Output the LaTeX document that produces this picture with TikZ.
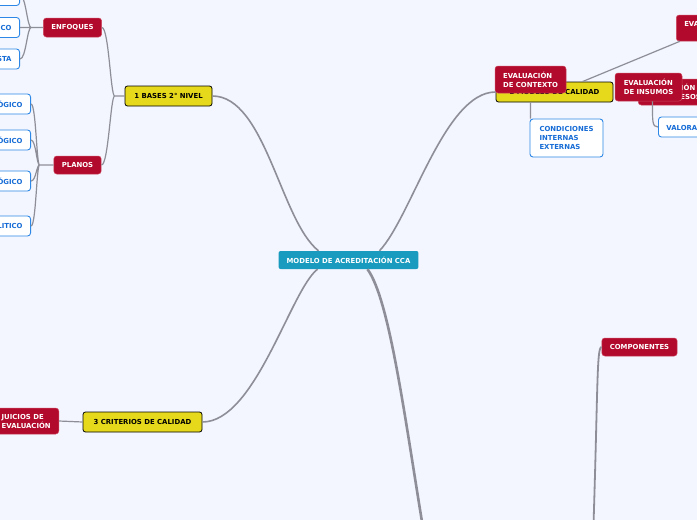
\documentclass[tikz,border=0pt]{standalone}
\usepackage{fontspec}
\setmainfont{DejaVu Sans}

\definecolor{mapbg}{RGB}{243,246,254}
\definecolor{rootcol}{RGB}{24,155,190}
\definecolor{topiccol}{RGB}{230,217,28}
\definecolor{redcol}{RGB}{178,10,44}
\definecolor{redrim}{RGB}{205,70,95}
\definecolor{leafcol}{RGB}{45,135,230}
\definecolor{leaftext}{RGB}{22,108,214}
\definecolor{linkcol}{RGB}{142,142,152}

\begin{document}
\begin{tikzpicture}[x=1pt,y=-1pt,font=\bfseries\fontsize{6.9}{9}\selectfont]
  \tikzstyle{root}=[fill=rootcol,text=white,rounded corners=2pt,minimum height=18pt,inner xsep=8pt]
  \tikzstyle{topic}=[fill=topiccol,draw=black,line width=0.8pt,text=black,rounded corners=2.5pt,minimum height=20pt,inner xsep=8pt]
  \tikzstyle{hub}=[fill=redcol,draw=redrim,line width=0.5pt,text=white,rounded corners=3pt,minimum height=19pt,inner xsep=8pt,align=left]
  \tikzstyle{leaf}=[fill=white,draw=leafcol,line width=0.9pt,text=leaftext,rounded corners=3pt,minimum height=20pt,inner xsep=8pt,align=left]
  \tikzstyle{link}=[draw=linkcol,line width=1.6pt]
  \tikzstyle{sublink}=[draw=linkcol,line width=1.2pt]

  \useasboundingbox (0,0) rectangle (697,520);
  \clip (0,0) rectangle (697,520);
  \fill[mapbg] (0,0) rectangle (697,520);

  \node[root]  (root) at (348.5,260) {MODELO DE ACREDITACIÓN CCA};
  \node[topic,minimum width=87pt]  (b1) at (168.5,96) {1 BASES 2° NIVEL};
  \node[topic,minimum width=117pt] (b2) at (554.5,92) {2 MODELO DE CALIDAD};
  \node[topic,minimum width=119pt] (b3) at (142.5,422) {3 CRITERIOS DE CALIDAD};

  \node[hub,minimum width=57pt] (enf) at (72.5,27.5) {ENFOQUES};
  \node[hub,minimum width=47pt,minimum height=18pt] (pla) at (77.5,165) {PLANOS};
  \node[leaf,anchor=east] (e1) at (20,-4.5) {ENFOQUE DE SISTEMAS};
  \node[leaf,anchor=east] (e2) at (20,27.5) {ENFOQUE SISTÉMICO};
  \node[leaf,anchor=east] (e3) at (20,59) {ENFOQUE HUMANISTA};
  \node[leaf,anchor=east] (p1) at (31,104) {EPISTEMOLÓGICO};
  \node[leaf,anchor=east] (p2) at (31,140) {PSICOLÓGICO};
  \node[leaf,anchor=east] (p3) at (31,181) {SOCIOLÓGICO};
  \node[leaf,anchor=east] (p4) at (31,226) {POLITICO};

  \node[hub,anchor=east,minimum height=26pt] (jui) at (59,421) {JUICIOS DE\\EVALUACIÓN};

  \node[hub,minimum width=71pt,minimum height=27pt] (ctx) at (530.5,79.5) {EVALUACIÓN\\DE CONTEXTO};
  \node[leaf,minimum width=73pt,minimum height=38pt] (cond) at (566.5,138) {CONDICIONES\\INTERNAS\\EXTERNAS};
  \node[hub,anchor=west,minimum height=26pt,text height=4pt,text depth=7pt] (prd) at (676,28) {EVALUACIÓN DE PRODUCTO};
  \node[hub,anchor=west,minimum height=26pt] (prc) at (638,92) {EVALUACIÓN\\DE PROCESOS};
  \node[hub,minimum width=67pt,minimum height=28pt] (ins) at (648.5,87) {EVALUACIÓN\\DE INSUMOS};
  \node[leaf,anchor=west] (vlr) at (658,127) {VALORACIÓN};

  \node[hub,minimum width=75pt,minimum height=18pt] (comp) at (639.5,347) {COMPONENTES};

  \coordinate (down) at (425,540);
  \coordinate (compdown) at (593,540);

  \draw[link]
  ([xshift=-30]root.north) .. controls +(-38,-30) and +(53,0) .. (b1.east)
  ([xshift=31]root.north) .. controls +(32,-34) and +(-51,0) .. (b2.west)
  ([xshift=-31]root.south) .. controls +(-27,21) and +(53,0) .. (b3.east);
  \draw[link,line width=2.6pt]
  ([xshift=19]root.south) .. controls +(22.5,31) and +(-20,-120) .. (down);
  \draw[link,line width=1.8pt]
  (compdown) .. controls +(5,-150) and +(-5,0) .. (comp.west);

  \draw[sublink]
  (b1.west) -- ++(-10,0) .. controls +(-4,0) and +(7,0) .. (enf.east)
  (b1.west) -- ++(-10,0) .. controls +(-4,0) and +(7,0) .. (pla.east)
  (enf.west) -- ++(-12,0) .. controls +(-4,0) and +(6,0) .. (e1.east)
  (enf.west) -- (e2.east)
  (enf.west) -- ++(-12,0) .. controls +(-4,0) and +(6,0) .. (e3.east)
  (pla.west) -- ++(-14,0) .. controls +(-3,0) and +(5,0) .. (p1.east)
  (pla.west) -- ++(-14,0) .. controls +(-3,0) and +(5,0) .. (p2.east)
  (pla.west) -- ++(-14,0) .. controls +(-3,0) and +(5,0) .. (p3.east)
  (pla.west) -- ++(-14,0) .. controls +(-3,0) and +(5,0) .. (p4.east)
  (b3.west) -- (jui.east)
  ([xshift=28]b2.north) -- ([xshift=4]prd.south west)
  (ctx.south |- b2.south) -- (ctx.south |- cond.north)
  ([xshift=4]ins.south) .. controls +(0,20) and +(-6,0) .. (vlr.west);
\end{tikzpicture}
\end{document}
